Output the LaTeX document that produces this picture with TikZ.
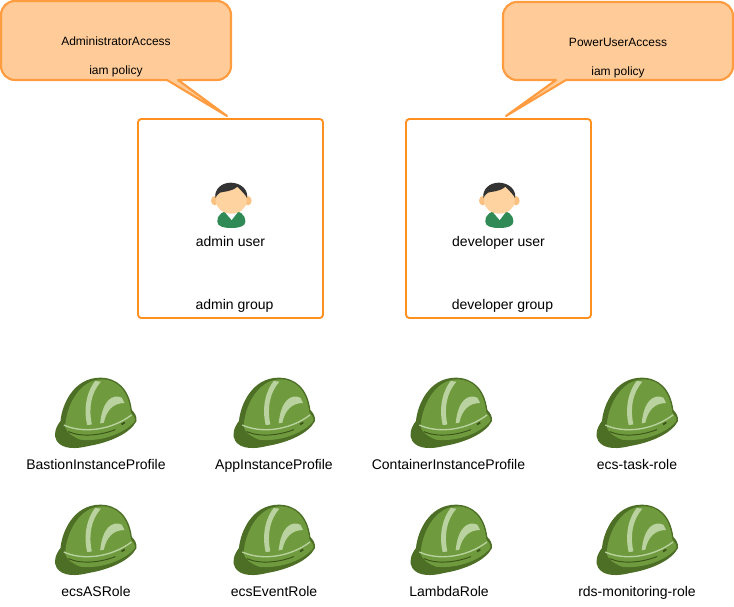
\documentclass[tikz,border=0pt]{standalone}
\usepackage{fontspec}
\setmainfont{Liberation Sans}
\definecolor{calloutfill}{HTML}{FFCC99}
\definecolor{calloutline}{HTML}{FF9C3F}
\definecolor{groupline}{HTML}{FF8F1F}
\definecolor{helmetmain}{HTML}{6F9B3E}
\definecolor{helmetdark}{HTML}{4C6E25}
\definecolor{helmetedge}{HTML}{3A5419}
\definecolor{helmetlight}{HTML}{B9D2A0}
\definecolor{hairc}{HTML}{333333}
\definecolor{skinc}{HTML}{FFD3A0}
\definecolor{earc}{HTML}{FBC183}
\definecolor{shirtc}{HTML}{2F8A55}
\tikzset{
  x=0.75pt,y=-0.75pt,
  lbl/.style={font=\fontsize{10.5}{12}\selectfont,text=black,inner sep=0pt,anchor=base},
  smalllbl/.style={font=\fontsize{9}{11}\selectfont,text=black,inner sep=0pt,anchor=base},
  calloutshape/.style={draw=calloutline,fill=calloutfill,line width=1.6pt,line join=round},
  groupbox/.style={draw=groupline,line width=1.4pt,fill=white,rounded corners=2.5pt},
  helmet/.pic={
    \begin{scope}[x=0.25pt,y=-0.25pt]
      \fill[helmetdark] (185,38) .. controls (235,38) and (272,70) .. (280,135)
        .. controls (288,143) and (296,155) .. (294,168)
        .. controls (275,205) and (215,232) .. (150,243)
        .. controls (115,252) and (72,254) .. (55,228)
        .. controls (44,212) and (50,188) .. (66,168)
        .. controls (70,120) and (105,38) .. (185,38) -- cycle;
      \fill[helmetmain] (190,43) .. controls (238,43) and (270,80) .. (277,142)
        .. controls (284,150) and (291,160) .. (289,168)
        .. controls (265,200) and (195,232) .. (125,224)
        .. controls (105,215) and (85,205) .. (80,186)
        .. controls (82,125) and (122,43) .. (190,43) -- cycle;
      \draw[helmetedge,line width=0.7pt,line cap=round] (90,200) .. controls (130,218) and (190,210) .. (230,194);
      \draw[helmetlight,line width=1pt] (76,180) .. controls (130,205) and (215,198) .. (279,150);
      \fill[helmetlight] (170,48) .. controls (148,75) and (133,125) .. (146,180)
        .. controls (151,180) and (156,179) .. (160,178)
        .. controls (150,130) and (157,85) .. (187,50) -- cycle;
      \fill[helmetlight] (250,98) .. controls (222,86) and (192,105) .. (185,175)
        .. controls (189,175) and (192,174) .. (196,173)
        .. controls (204,135) and (225,114) .. (258,114) -- cycle;
      \fill[helmetedge] (248,176) -- (258,170) -- (260,175) -- (250,181) -- cycle;
    \end{scope}
  },
  person/.pic={
    \begin{scope}[x=0.25pt,y=-0.25pt]
      \fill[shirtc] (82,155) .. controls (82,132) and (100,122) .. (124,120)
        .. controls (148,122) and (166,132) .. (166,155)
        .. controls (166,168) and (150,174) .. (124,174)
        .. controls (98,174) and (82,168) .. (82,155) -- cycle;
      \fill[white] (106,128) -- (142,128) -- (125,150) -- cycle;
      \fill[earc] (74,92) circle[x radius=11,y radius=14];
      \fill[earc] (174,92) circle[x radius=11,y radius=14];
      \fill[skinc] (124,48) .. controls (155,48) and (170,70) .. (170,92)
        .. controls (170,116) and (148,131) .. (124,131)
        .. controls (100,131) and (78,116) .. (78,92)
        .. controls (78,70) and (93,48) .. (124,48) -- cycle;
      \fill[hairc] (76,84) .. controls (72,58) and (95,38) .. (122,38)
        .. controls (150,38) and (176,58) .. (171,84)
        .. controls (165,72) and (155,64) .. (142,50)
        .. controls (125,66) and (100,64) .. (90,68)
        .. controls (84,72) and (79,78) .. (76,84) -- cycle;
    \end{scope}
  }
}
\begin{document}
\begin{tikzpicture}
\useasboundingbox (0,0) rectangle (734,606);
\fill[white] (0,0) rectangle (734,606);
% callouts
\draw[calloutshape] (116,1) [rounded corners=10.5pt] -- (231,1) -- (231,80) [sharp corners] -- (178,80) -- (227,116) -- (167,80) [rounded corners=10.5pt] -- (1,80) -- (1,1) -- cycle;
\draw[calloutshape] (618,2) [rounded corners=10.5pt] -- (733,2) -- (733,80) [sharp corners] -- (566,80) -- (506,116) -- (556,80) [rounded corners=10.5pt] -- (503,80) -- (503,2) -- cycle;
\node[smalllbl] (adminpol) at (116,45.5) {AdministratorAccess};
\node[smalllbl] (adminiam) at (116,75) {iam policy};
\node[smalllbl] (powerpol) at (618,46.5) {PowerUserAccess};
\node[smalllbl] (poweriam) at (618,76) {iam policy};
% groups
\node[groupbox,minimum width=138.75pt,minimum height=149.25pt,inner sep=0pt] (admingrp) at (230.5,218.5) {};
\node[groupbox,minimum width=138.75pt,minimum height=149.25pt,inner sep=0pt] (devgrp) at (498.5,218.5) {};
\pic at (190,170) {person};
\pic at (458,170) {person};
\node[lbl] (adminuser) at (230.5,246.5) {admin user};
\node[lbl] (devuser) at (498.5,246.5) {developer user};
\node[lbl] (admingl) at (234.5,309) {admin group};
\node[lbl] (devgl) at (502.5,309) {developer group};
% helmets
\foreach \hx in {38.5,217,394,580}{
  \pic at (\hx,365) {helmet};
  \pic at (\hx,492) {helmet};
}
\node[lbl] (r1) at (96,469.5) {BastionInstanceProfile};
\node[lbl] (r2) at (274,469.5) {AppInstanceProfile};
\node[lbl] (r3) at (448.5,469.5) {ContainerInstanceProfile};
\node[lbl] (r4) at (637,469.5) {ecs-task-role};
\node[lbl] (r5) at (96,596.5) {ecsASRole};
\node[lbl] (r6) at (274,596.5) {ecsEventRole};
\node[lbl] (r7) at (449,596.5) {LambdaRole};
\node[lbl] (r8) at (637,596.5) {rds-monitoring-role};
\end{tikzpicture}
\end{document}
